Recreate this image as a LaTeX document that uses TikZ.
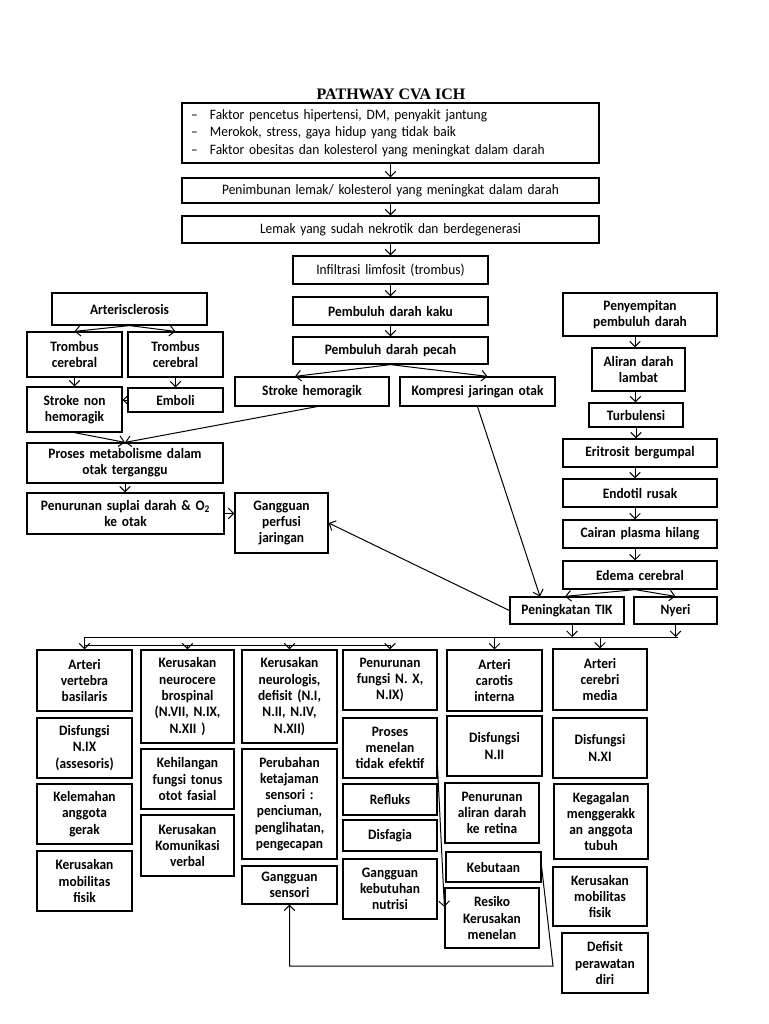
\documentclass[tikz,border=0pt]{standalone}
\usepackage{fontspec}
\setmainfont{Carlito}[FakeStretch=0.93]
\newfontfamily\titlefont{Liberation Serif}
\usetikzlibrary{arrows.meta,calc}
\tikzset{
  box/.style={draw, line width=0.9pt, inner sep=0pt, align=center, font=\fontsize{10.8}{12.2}\selectfont\bfseries},
  plainbox/.style={font=\fontsize{10.8}{13.1}\selectfont},
  arr/.style={line width=0.75pt, -{Straight Barb[length=4pt,width=8pt]}},
  ln/.style={line width=0.75pt},
}
\newcommand\mybox[7][]{%
  \pgfmathsetmacro\bxw{(#5-#3)*0.75}%
  \pgfmathsetmacro\bxh{(#6-#4)*0.75}%
  \pgfmathsetmacro\bxt{(#5-#3)*0.75-3}%
  \node[box,minimum width=\bxw pt,minimum height=\bxh pt,text width=\bxt pt,#1] (#2) at ({(#3+#5)/2},{(#4+#6)/2}) {#7};}
\begin{document}
\begin{tikzpicture}[x=0.75pt,y=-0.75pt]
\fill[white] (0,0) rectangle (768,1024);
\useasboundingbox (0,0) rectangle (768,1024);
\node[font=\titlefont\bfseries\fontsize{12}{14}\selectfont] (title) at (391,94) {PATHWAY CVA ICH};
% top chain
\pgfmathsetmacro\bxw{(599-182)*0.75}
\pgfmathsetmacro\bxt{(599-182)*0.75-13.5}
\node[box,plainbox,align=left,minimum width=\bxw pt,minimum height=45pt,text width=\bxt pt] (A) at (390.5,133) {\makebox[14.25pt][l]{–}Faktor pencetus hipertensi, DM, penyakit jantung\\\makebox[14.25pt][l]{–}Merokok, stress, gaya hidup yang tidak baik\\\makebox[14.25pt][l]{–}Faktor obesitas dan kolesterol yang meningkat dalam darah};
\mybox[plainbox]{B}{182}{178}{599}{203}{Penimbunan lemak/ kolesterol yang meningkat dalam darah}
\mybox[plainbox]{C}{182}{216}{599}{243}{Lemak yang sudah nekrotik dan berdegenerasi}
\mybox[plainbox]{D}{293}{256}{488}{284}{Infiltrasi limfosit (trombus)}
\mybox{E}{293}{297}{488}{325}{Pembuluh darah kaku}
\mybox{F}{293}{337}{488}{364}{Pembuluh darah pecah}
\mybox{SH}{235}{377}{389}{406}{Stroke hemoragik}
\mybox{KJ}{400}{377}{555}{406}{Kompresi jaringan otak}
% left column
\mybox{AS}{52}{293}{207}{325}{Arterisclerosis}
\mybox{TL}{27}{332}{122}{377}{Trombus\\cerebral}
\mybox{TR}{128}{332}{223}{377}{Trombus\\cerebral}
\mybox{SN}{27}{387}{122}{432}{Stroke non\\hemoragik}
\mybox{EM}{128}{388}{223}{412}{Emboli}
\mybox{PM}{27}{443}{223}{483}{Proses metabolisme dalam\\otak terganggu}
\mybox{PS}{27}{493}{224}{534}{Penurunan suplai darah \& O\textsubscript{2}\\ke otak}
\mybox{GP}{235}{493}{328}{553}{Gangguan\\perfusi\\jaringan}
% right column
\mybox{PP}{563}{293}{717}{336}{Penyempitan\\pembuluh darah}
\mybox{AL}{592}{348}{685}{391}{Aliran darah\\lambat}
\mybox{TU}{589}{403}{683}{427}{Turbulensi}
\mybox{ER}{563}{439}{717}{467}{Eritrosit bergumpal}
\mybox{EN}{563}{479}{717}{507}{Endotil rusak}
\mybox{CP}{563}{520}{717}{548}{Cairan plasma hilang}
\mybox{ED}{563}{561}{717}{589}{Edema cerebral}
\mybox{TIK}{510}{597}{624}{624}{Peningkatan TIK}
\mybox{NY}{634}{597}{717}{624}{Nyeri}
% bottom columns
\mybox{c1a}{37}{650}{132}{711}{Arteri\\vertebra\\basilaris}
\mybox{c1b}{37}{718}{132}{778}{Disfungsi\\N.IX\\(assesoris)}
\mybox{c1c}{37}{784}{132}{844}{Kelemahan\\anggota\\gerak}
\mybox{c1d}{37}{851}{132}{911}{Kerusakan\\mobilitas\\fisik}
\mybox{c2a}{141}{650}{234}{743}{Kerusakan\\neurocere\\brospinal\\(N.VII, N.IX,\\N.XII )}
\mybox{c2b}{141}{749}{234}{809}{Kehilangan\\fungsi tonus\\otot fasial}
\mybox{c2c}{141}{815}{234}{876}{Kerusakan\\Komunikasi\\verbal}
\mybox{c3a}{242}{650}{337}{743}{Kerusakan\\neurologis,\\defisit (N.I,\\N.II, N.IV,\\N.XII)}
\mybox{c3b}{242}{749}{337}{859}{Perubahan\\ketajaman\\sensori :\\penciuman,\\penglihatan,\\pengecapan}
\mybox{c3c}{242}{866}{337}{904}{Gangguan\\sensori}
\mybox{c4a}{343}{650}{437}{710}{Penurunan\\fungsi N. X,\\N.IX)}
\mybox{c4b}{343}{718}{437}{778}{Proses\\menelan\\tidak efektif}
\mybox{c4c}{343}{784}{437}{815}{Refluks}
\mybox{c4d}{343}{820}{437}{851}{Disfagia}
\mybox{c4e}{343}{859}{437}{919}{Gangguan\\kebutuhan\\nutrisi}
\mybox{c5a}{447}{650}{542}{711}{Arteri\\carotis\\interna}
\mybox{c5b}{447}{716}{542}{776}{Disfungsi\\N.II}
\mybox{c5c}{445}{783}{539}{843}{Penurunan\\aliran darah\\ke retina}
\mybox{c5d}{446}{852}{541}{882}{Kebutaan}
\mybox{c5e}{445}{888}{539}{948}{Resiko\\Kerusakan\\menelan}
\mybox{c6a}{553}{649}{647}{710}{Arteri\\cerebri\\media}
\mybox{c6b}{553}{718}{647}{778}{Disfungsi\\N.XI}
\mybox{c6c}{554}{784}{648}{859}{Kegagalan\\menggerakk\\an anggota\\tubuh}
\mybox{c6d}{553}{867}{647}{926}{Kerusakan\\mobilitas\\fisik}
\mybox{c6e}{562}{933}{648}{993}{Defisit\\perawatan\\diri}
% connectors top
\draw[arr] (A.south) -- (B.north);
\draw[arr] (B.south) -- (C.north);
\draw[arr] (C.south) -- (D.north);
\draw[arr] (D.south) -- (E.north);
\draw[arr] (E.south) -- (F.north);
\draw[arr] (F.south) -- ($(SH.north)+(-17,0)$);
\draw[arr] (F.south) -- ($(KJ.north)+(10,0)$);
% left
\draw[arr] (AS.south) -- (TL.north);
\draw[arr] (AS.south) -- (TR.north);
\draw[arr] (TL.south) -- (SN.north);
\draw[arr] (TR.south) -- (EM.north);
\draw[arr] (EM.west) -- (EM.west -| SN.east);
\draw[arr] (SN.south) -- (PM.north);
\draw[arr] ($(SH.south)+(5,0)$) -- (PM.north);
\draw[arr] (PM.south) -- (PM.south |- PS.north);
\draw[arr] (PS.east) -- (PS.east -| GP.west);
\draw[arr] (TIK.west) -- (GP.east);
\draw[arr] (KJ.south) -- ($(TIK.north)+(-27,0)$);
% right
\draw[arr] ($(PP.south)+(-5,0)$) -- ($(PP.south |- AL.north)+(-5,0)$);
\draw[arr] ($(AL.south)+(-3,0)$) -- ($(AL.south |- TU.north)+(-3,0)$);
\draw[arr] (TU.south) -- (TU.south |- ER.north);
\draw[arr] ($(ER.south)+(-5,0)$) -- ($(ER.south |- EN.north)+(-5,0)$);
\draw[arr] ($(EN.south)+(-5,0)$) -- ($(EN.south |- CP.north)+(-5,0)$);
\draw[arr] ($(CP.south)+(-5,0)$) -- ($(CP.south |- ED.north)+(-5,0)$);
\draw[arr] ($(ED.south)+(-5,0)$) -- ($(TIK.north)+(-2,0)$);
\draw[arr] ($(ED.south)+(-5,0)$) -- (NY.north);
% bus
\coordinate (busL) at (84.5,637);
\coordinate (busR) at (678,637);
\coordinate (bus2L) at (84.5,645);
\draw[ln] (busL) -- (busR);
\draw[ln] (bus2L) -- (bus2L -| c4a.north);
\draw[arr] ($(TIK.south)+(5,0)$) -- ($(TIK.south |- busR)+(5,0)$);
\draw[arr] (NY.south) -- (NY.south |- busR);
\draw[arr] (busL) -- (c1a.north);
\draw[arr] (c2a.north |- bus2L) -- (c2a.north);
\draw[arr] (c3a.north |- bus2L) -- (c3a.north);
\draw[arr] (c4a.north |- bus2L) -- (c4a.north);
\draw[arr] (c5a.north |- busR) -- (c5a.north);
\draw[arr] (c6a.north |- busR) -- (c6a.north);
% bottom extra
\draw[arr] ($(c4b.east)+(-1,0)$) -- ($(c5e.west)+(0,-11)$);
\coordinate (k1) at (553,966);
\draw[arr] (c5d.east) -- (k1) -- (k1 -| c3c.south) -- (c3c.south);
\end{tikzpicture}
\end{document}
